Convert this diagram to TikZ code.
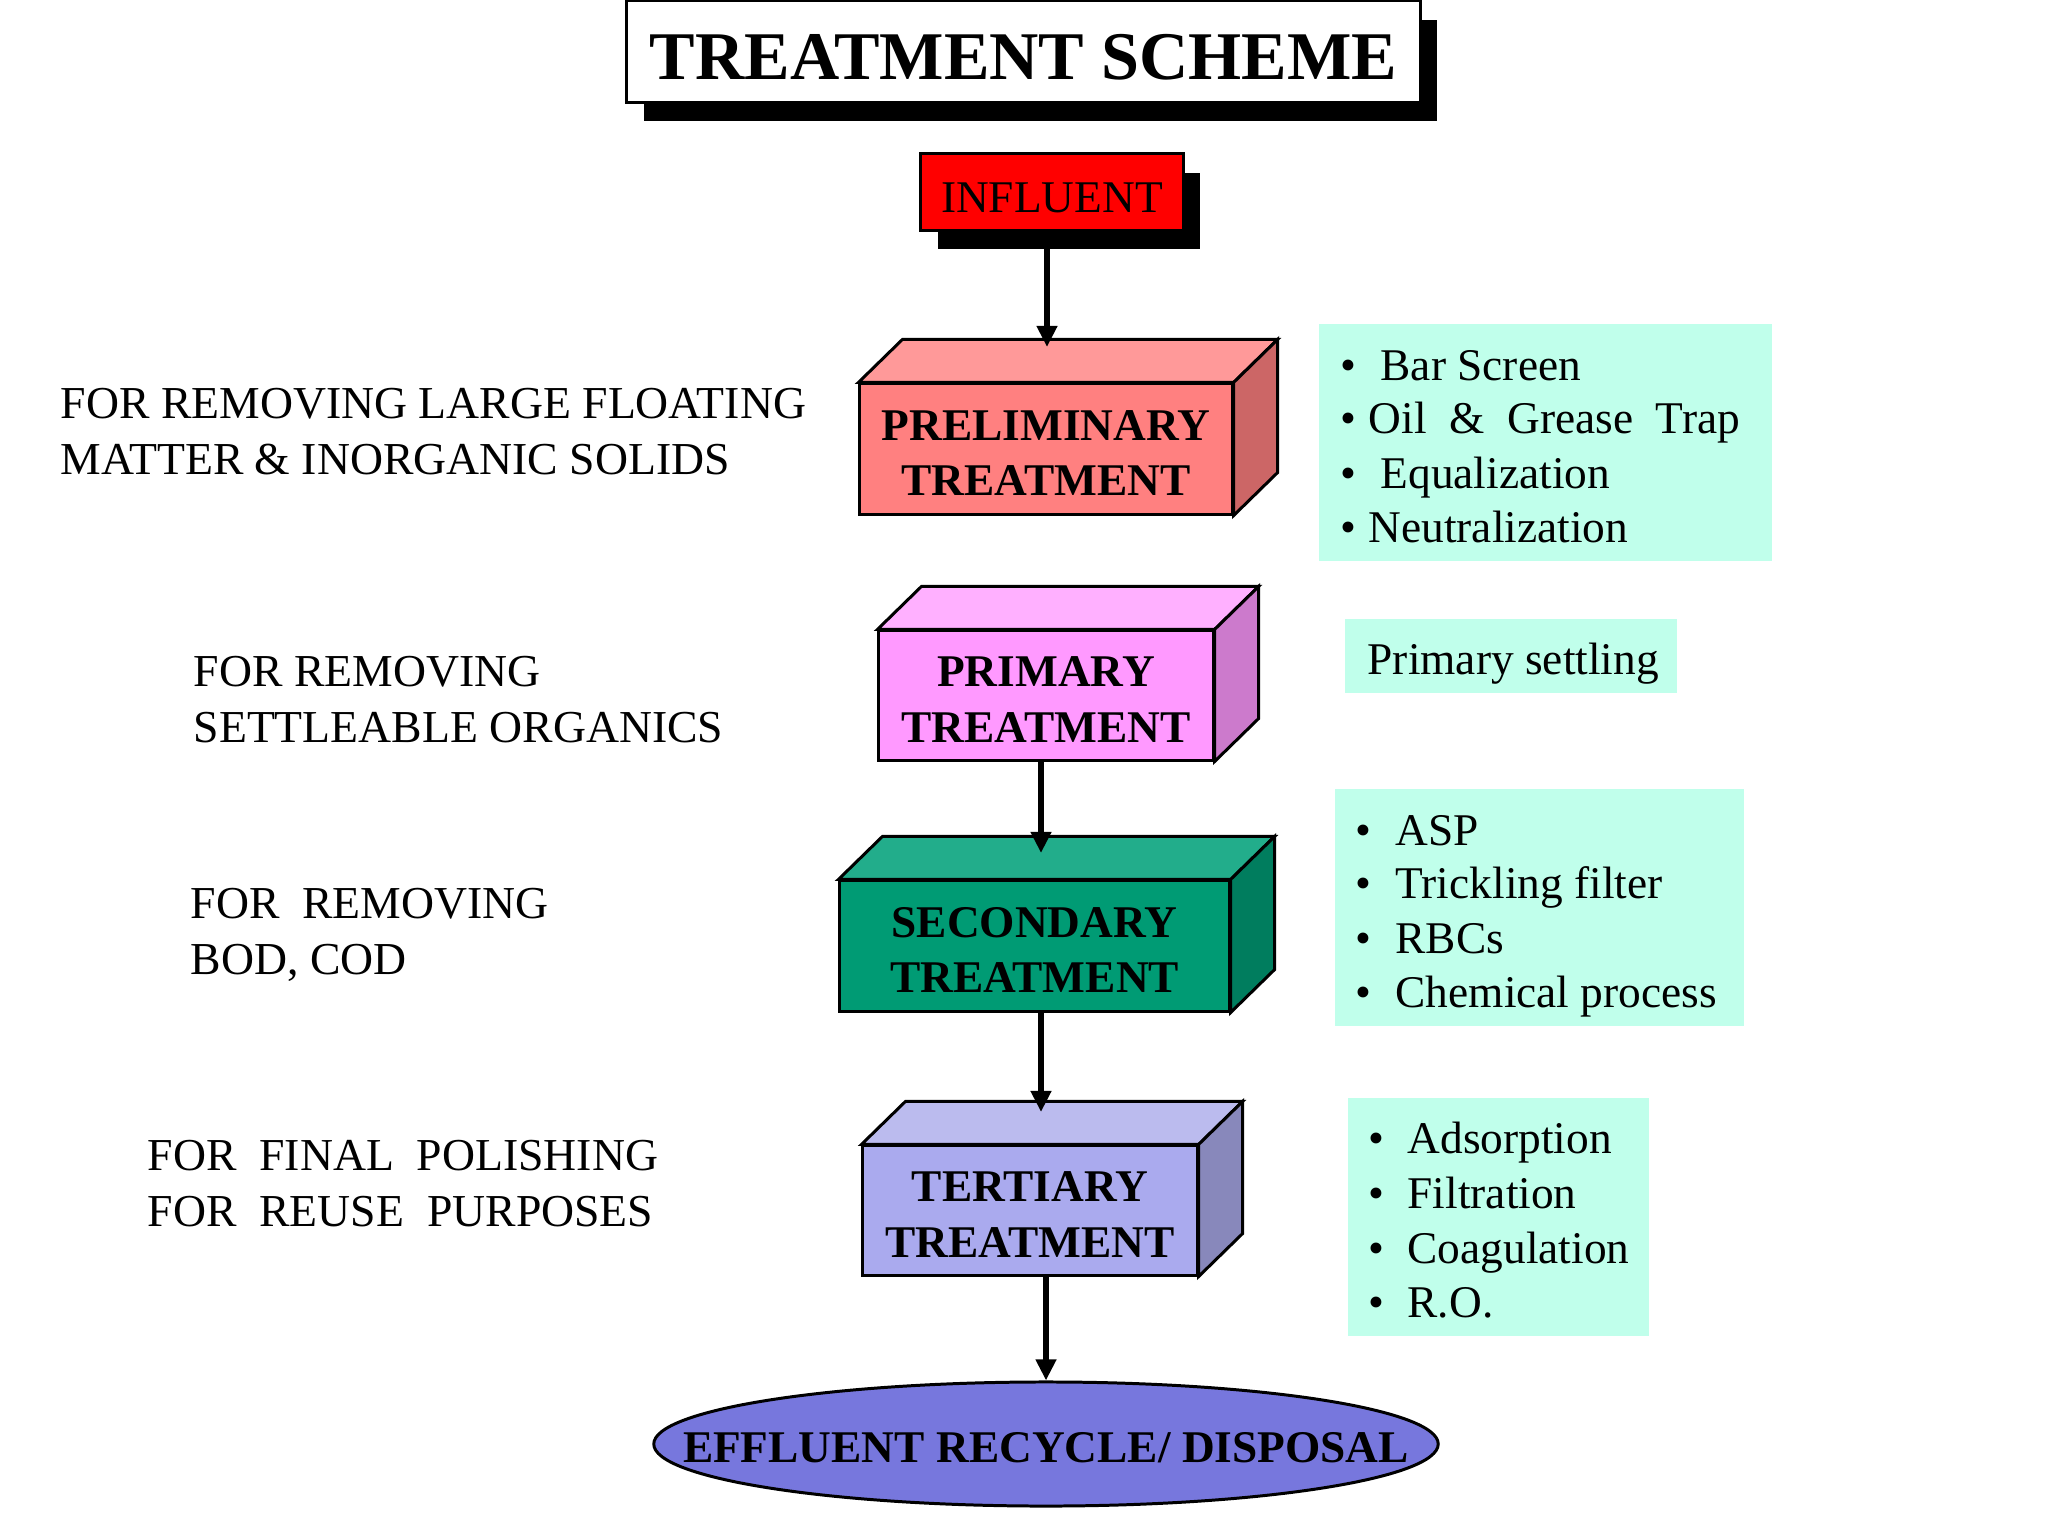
\documentclass[tikz,border=0pt]{standalone}
\usepackage{fontspec}
\setmainfont{Liberation Serif}
\usetikzlibrary{shapes.geometric,arrows.meta,shadows}

\definecolor{preF}{HTML}{FF8080}
\definecolor{preT}{HTML}{FF9999}
\definecolor{preS}{HTML}{CC6666}
\definecolor{priF}{HTML}{FF99FF}
\definecolor{priT}{HTML}{FFB0FF}
\definecolor{priS}{HTML}{CC7ACC}
\definecolor{secF}{HTML}{009B74}
\definecolor{secT}{HTML}{22AD8B}
\definecolor{secS}{HTML}{007D5E}
\definecolor{terF}{HTML}{AAAAEE}
\definecolor{terT}{HTML}{BBBBEE}
\definecolor{terS}{HTML}{8888BB}
\definecolor{effC}{HTML}{7777DD}
\definecolor{aqua}{RGB}{192,255,235}

\newcommand\cubefaces[3]{%
  \draw[edge, fill=#2] (#1.north west) -- ++(44,-43) -- ([shift={(44,-43)}]#1.north east) -- (#1.north east) -- cycle;
  \draw[edge, fill=#3] (#1.north east) -- ++(44,-43) -- ([shift={(44,-43)}]#1.south east) -- (#1.south east) -- cycle;}

\begin{document}
\begin{tikzpicture}[x=0.01cm,y=-0.01cm,
  reg/.style={font=\fontsize{12.9pt}{15.65pt}\selectfont, inner sep=0pt},
  bld/.style={font=\fontsize{12.9pt}{15.65pt}\selectfont\bfseries, align=center, inner sep=0pt},
  edge/.style={draw=black, line width=0.85pt, line join=miter},
  face/.style={edge, rectangle, inner sep=0pt},
  flabel/.style={bld, yshift=-0.04cm},
  lbox/.style={fill=aqua, rectangle, inner sep=0pt},
  item/.style={reg, anchor=base west},
  lefttxt/.style={font=\fontsize{13.0pt}{15.65pt}\selectfont, inner sep=0pt, anchor=north west, align=left},
  arr/.style={line width=1.5pt, -{Triangle[length=6pt,width=5.6pt]}},
  shad/.style={drop shadow={shadow xshift=0.17cm, shadow yshift=-0.19cm, fill=black, opacity=1}}
]
\useasboundingbox[fill=white] (0,0) rectangle (2048,1536);

% title
\node[edge, fill=white, shad, minimum width=7.93cm, minimum height=1.01cm, inner sep=0pt,
  text height=0.55cm, text depth=0pt, font=\fontsize{19.4pt}{23pt}\selectfont\bfseries]
  (title) at (1023.5,51.5) {TREATMENT SCHEME};

% influent
\node[edge, fill=red, shad, minimum width=2.62cm, minimum height=0.76cm, inner sep=0pt, reg,
  text height=0.40cm, text depth=0pt]
  (infl) at (1052,192) {INFLUENT};

% 3D boxes
\node[face, fill=preF, minimum width=3.72cm, minimum height=1.30cm] (pre) at (1046,449) {};
\cubefaces{pre}{preT}{preS}
\node[flabel] (preL) at (pre.center) {PRELIMINARY\\TREATMENT};
\node[face, fill=priF, minimum width=3.34cm, minimum height=1.29cm] (pri) at (1046,695.5) {};
\cubefaces{pri}{priT}{priS}
\node[flabel] (priL) at (pri.center) {PRIMARY\\TREATMENT};
\node[face, fill=secF, minimum width=3.89cm, minimum height=1.30cm] (sec) at (1034.5,946) {};
\cubefaces{sec}{secT}{secS}
\node[flabel] (secL) at (sec.center) {SECONDARY\\TREATMENT};
\node[face, fill=terF, minimum width=3.34cm, minimum height=1.29cm] (ter) at (1030,1210.5) {};
\cubefaces{ter}{terT}{terS}
\node[flabel] (terL) at (ter.center) {TERTIARY\\TREATMENT};

% effluent ellipse
\node[ellipse, edge, fill=effC, minimum width=7.84cm, minimum height=1.24cm, inner sep=0pt]
  (eff) at (1046,1444) {};
\node[flabel] (effL) at (eff.center) {EFFLUENT RECYCLE/ DISPOSAL};

% left descriptions
\node[lefttxt] (l1) at (60,388) {FOR REMOVING LARGE FLOATING\\MATTER \& INORGANIC SOLIDS};
\node[lefttxt] (l2) at (193,656) {FOR REMOVING\\SETTLEABLE ORGANICS};
\node[lefttxt] (l3) at (190,888) {FOR\ \ REMOVING\\BOD, COD};
\node[lefttxt] (l4) at (147,1140) {FOR\ \ FINAL\ \ POLISHING\\FOR\ \ REUSE\ \ PURPOSES};

% right list boxes
\node[lbox, minimum width=4.53cm, minimum height=2.37cm] (r1) at (1545.5,442.5) {};
\node[lbox, minimum width=3.32cm, minimum height=0.74cm] (r2) at (1511,656) {};
\node[lbox, minimum width=4.09cm, minimum height=2.37cm] (r3) at (1539.5,907.5) {};
\node[lbox, minimum width=3.01cm, minimum height=2.38cm] (r4) at (1498.5,1217) {};

\node[item] (r1a) at (1380,380) {\llap{•\hspace{0.24cm}}Bar Screen};
\node[item] (r1b) at (1368,433) {\llap{•\hspace{0.12cm}}Oil\ \ \&\ \ Grease\ \ Trap};
\node[item] (r1c) at (1380,488) {\llap{•\hspace{0.24cm}}Equalization};
\node[item] (r1d) at (1368,542) {\llap{•\hspace{0.12cm}}Neutralization};

\node[item] (r2a) at (1367,674) {Primary settling};

\node[item] (r3a) at (1395,845) {\llap{•\hspace{0.24cm}}ASP};
\node[item] (r3b) at (1395,898) {\llap{•\hspace{0.24cm}}Trickling filter};
\node[item] (r3c) at (1395,953) {\llap{•\hspace{0.24cm}}RBCs};
\node[item] (r3d) at (1395,1007) {\llap{•\hspace{0.24cm}}Chemical process};

\node[item] (r4a) at (1407,1153) {\llap{•\hspace{0.23cm}}Adsorption};
\node[item] (r4b) at (1407,1208) {\llap{•\hspace{0.23cm}}Filtration};
\node[item] (r4c) at (1407,1263) {\llap{•\hspace{0.23cm}}Coagulation};
\node[item] (r4d) at (1407,1317) {\llap{•\hspace{0.23cm}}R.O.};

% connectors
\coordinate (preIn) at (1047,347);
\coordinate (secIn) at (1041,853);
\coordinate (terIn) at (1041,1112);
\draw[arr] (infl.south -| preIn) -- (preIn);
\draw[arr] (pri.south -| secIn) -- (secIn);
\draw[arr] (sec.south -| terIn) -- (terIn);
\draw[arr] (ter.south -| eff.north) -- (eff.north);
\end{tikzpicture}
\end{document}
